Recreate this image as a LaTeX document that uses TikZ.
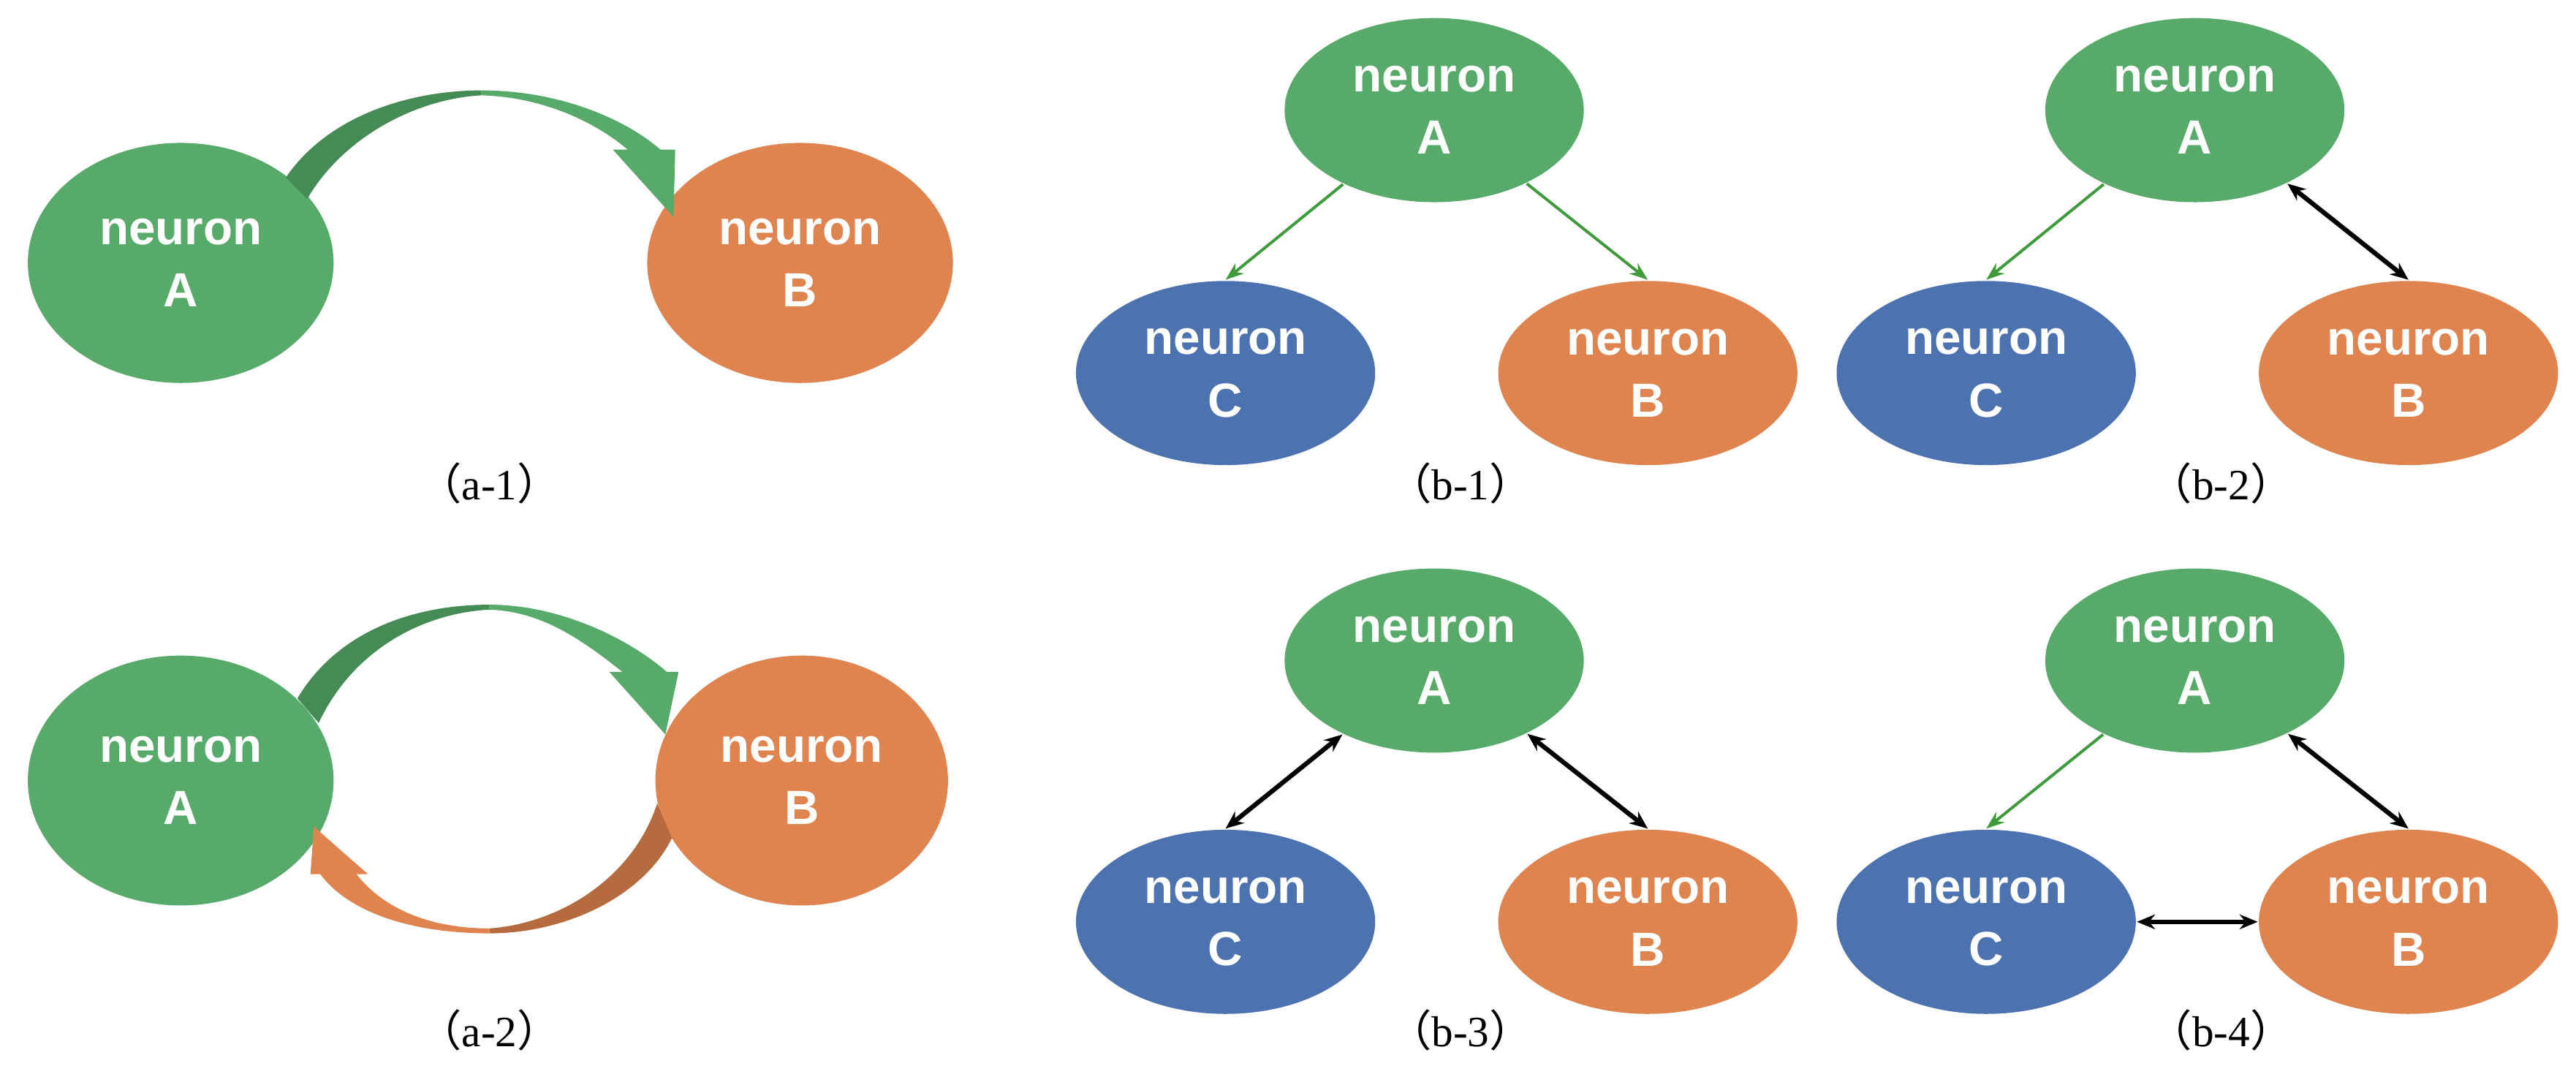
\documentclass[tikz,border=0pt]{standalone}
\usepackage{fontspec}
\setmainfont{Liberation Serif}
\newfontfamily\lsans{Liberation Sans}
\newfontfamily\cjk{Noto Sans CJK SC}
\usetikzlibrary{shapes.geometric,arrows.meta}
\definecolor{ngreen}{HTML}{57AA69}
\definecolor{dgreen}{HTML}{458B55}
\definecolor{norange}{HTML}{E0844F}
\definecolor{dorange}{HTML}{B66B3E}
\definecolor{nblue}{HTML}{4C72B0}
\definecolor{agreen}{HTML}{3E9A3A}
\begin{document}
\begin{tikzpicture}[x=0.01cm,y=-0.01cm,
  neu/.style={ellipse,inner sep=0pt,text=white,align=center,
    font=\lsans\bfseries\fontsize{8.3}{10.8}\selectfont},
  big/.style={neu,minimum width=1.86cm,minimum height=1.46cm},
  sm/.style={neu,minimum width=1.82cm,minimum height=1.12cm},
  lbl/.style={font=\fontsize{7.5}{9}\selectfont},
  garr/.style={draw=agreen,line width=0.5pt,-{Stealth[length=0.11cm,width=0.08cm]}},
  barr/.style={draw=black,line width=0.8pt,{Stealth[length=0.11cm,width=0.09cm]}-{Stealth[length=0.11cm,width=0.09cm]}}]
\useasboundingbox (0,0) rectangle (1568,660);
% (a-1)
\node[big,fill=ngreen] (a1A) at (110,160) {neuron\\A};
\node[big,fill=norange] (a1B) at (487,160) {neuron\\B};
\fill[dgreen] (174,108) .. controls (200,70) and (250,55) .. (293,55) -- (293,58) .. controls (255,60) and (210,82) .. (187,121) -- cycle;
\fill[ngreen] (293,55) .. controls (340,55) and (380,72) .. (402,91) -- (411,91) -- (410,132) -- (373,91) -- (382,91) .. controls (362,74) and (330,59) .. (293,58) -- cycle;
\node[lbl] (l1) at (298,294) {{\cjk （}a-1{\cjk ）}};
% (a-2)
\node[big,fill=ngreen,minimum height=1.52cm] (a2A) at (110,475) {neuron\\A};
\node[big,fill=norange,minimum width=1.78cm,minimum height=1.52cm] (a2B) at (488,475) {neuron\\B};
\fill[dgreen] (181,425) .. controls (205,385) and (250,368) .. (298,368) -- (298,371) .. controls (258,373) and (215,395) .. (194,440) -- cycle;
\fill[ngreen] (298,368) .. controls (340,368) and (382,388) .. (406,409) -- (413,409) -- (405,447) -- (371,409) -- (379,409) .. controls (355,390) and (330,372) .. (298,371) -- cycle;
\fill[dorange] (409,510) .. controls (392,545) and (345,568) .. (298,568) -- (298,565) .. controls (340,562) and (385,535) .. (400,489) -- cycle;
\fill[norange] (298,568) .. controls (250,568) and (212,555) .. (195,532) -- (189,532) -- (191,503) -- (224,532) -- (217,532) .. controls (235,555) and (265,565) .. (298,565) -- cycle;
\node[lbl] (l2) at (298,627) {{\cjk （}a-2{\cjk ）}};
% (b-1)
\node[sm,fill=ngreen] (b1A) at (873,67) {neuron\\A};
\node[sm,fill=nblue] (b1C) at (746,227) {neuron\\C};
\node[sm,fill=norange] (b1B) at (1003,227) {neuron\\B};
\draw[garr] (b1A) -- (b1C.north);
\draw[garr] (b1A) -- (b1B.north);
\node[lbl] (l3) at (889,294) {{\cjk （}b-1{\cjk ）}};
% (b-2)
\node[sm,fill=ngreen] (b2A) at (1336,67) {neuron\\A};
\node[sm,fill=nblue] (b2C) at (1209,227) {neuron\\C};
\node[sm,fill=norange] (b2B) at (1466,227) {neuron\\B};
\draw[garr] (b2A) -- (b2C.north);
\draw[barr] (b2A) -- (b2B.north);
\node[lbl] (l4) at (1352,294) {{\cjk （}b-2{\cjk ）}};
% (b-3)
\node[sm,fill=ngreen] (b3A) at (873,402) {neuron\\A};
\node[sm,fill=nblue] (b3C) at (746,561) {neuron\\C};
\node[sm,fill=norange] (b3B) at (1003,561) {neuron\\B};
\draw[barr] (b3A) -- (b3C.north);
\draw[barr] (b3A) -- (b3B.north);
\node[lbl] (l5) at (889,627) {{\cjk （}b-3{\cjk ）}};
% (b-4)
\node[sm,fill=ngreen] (b4A) at (1336,402) {neuron\\A};
\node[sm,fill=nblue] (b4C) at (1209,561) {neuron\\C};
\node[sm,fill=norange] (b4B) at (1466,561) {neuron\\B};
\draw[garr] (b4A) -- (b4C.north);
\draw[barr] (b4A) -- (b4B.north);
\draw[barr] (b4C) -- (b4B);
\node[lbl] (l6) at (1352,627) {{\cjk （}b-4{\cjk ）}};
\end{tikzpicture}
\end{document}
